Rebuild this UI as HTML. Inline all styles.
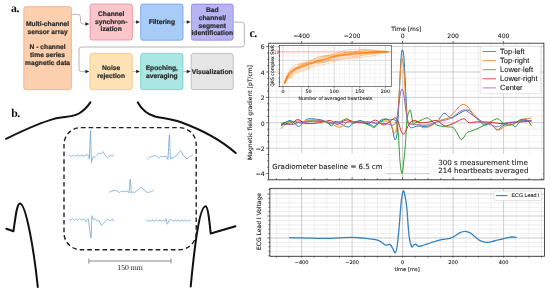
<!DOCTYPE html>
<html><head><meta charset="utf-8"><title>Figure</title>
<style>html,body{margin:0;padding:0;background:#fff;}svg{display:block;}.t{stroke:#222;stroke-width:0.1px;paint-order:stroke;}</style></head>
<body><svg width="550" height="294" viewBox="0 0 550 294" text-rendering="geometricPrecision">
<rect width="550" height="294" fill="#fff"/>
<text x="10.9" y="11.5" font-family="'Liberation Serif', 'Times New Roman', serif" font-weight="bold" font-size="11.8" letter-spacing="-0.4" fill="#111">a.</text>
<text x="11.2" y="116.8" font-family="'Liberation Serif', 'Times New Roman', serif" font-weight="bold" font-size="11.8" letter-spacing="-0.4" fill="#111">b.</text>
<text x="249.5" y="37.1" font-family="'Liberation Serif', 'Times New Roman', serif" font-weight="bold" font-size="12" letter-spacing="-0.6" fill="#111">c.</text>
<rect x="23.8" y="6.7" width="47.6" height="82.9" rx="2.2" fill="#fccfae" stroke="#f2a96e" stroke-width="0.8"/>
<text x="47.6" y="25.75" text-anchor="middle" font-family="'Liberation Sans', Arial, sans-serif" font-weight="bold" font-size="6.7" fill="#2a2a2a" stroke="#2a2a2a" stroke-width="0.2">Multi-channel</text>
<text x="47.6" y="33.7" text-anchor="middle" font-family="'Liberation Sans', Arial, sans-serif" font-weight="bold" font-size="6.7" fill="#2a2a2a" stroke="#2a2a2a" stroke-width="0.2">sensor array</text>
<text x="47.6" y="49.15" text-anchor="middle" font-family="'Liberation Sans', Arial, sans-serif" font-weight="bold" font-size="6.7" fill="#2a2a2a" stroke="#2a2a2a" stroke-width="0.2">N - channel</text>
<text x="47.6" y="56.95" text-anchor="middle" font-family="'Liberation Sans', Arial, sans-serif" font-weight="bold" font-size="6.7" fill="#2a2a2a" stroke="#2a2a2a" stroke-width="0.2">time series</text>
<text x="47.6" y="64.75" text-anchor="middle" font-family="'Liberation Sans', Arial, sans-serif" font-weight="bold" font-size="6.7" fill="#2a2a2a" stroke="#2a2a2a" stroke-width="0.2">magnetic data</text>
<rect x="90" y="4" width="42.4" height="36" rx="2.2" fill="#f9c5ca" stroke="#ec8e98" stroke-width="0.8"/>
<text x="111.2" y="15.7" text-anchor="middle" font-family="'Liberation Sans', Arial, sans-serif" font-weight="bold" font-size="6.7" fill="#2a2a2a" stroke="#2a2a2a" stroke-width="0.2">Channel</text>
<text x="111.2" y="23.55" text-anchor="middle" font-family="'Liberation Sans', Arial, sans-serif" font-weight="bold" font-size="6.7" fill="#2a2a2a" stroke="#2a2a2a" stroke-width="0.2">synchron-</text>
<text x="111.2" y="31.4" text-anchor="middle" font-family="'Liberation Sans', Arial, sans-serif" font-weight="bold" font-size="6.7" fill="#2a2a2a" stroke="#2a2a2a" stroke-width="0.2">ization</text>
<rect x="140.7" y="4.1" width="42.3" height="36.1" rx="2.2" fill="#a8cbf7" stroke="#6d9fe6" stroke-width="0.8"/>
<text x="161.85" y="23.7" text-anchor="middle" font-family="'Liberation Sans', Arial, sans-serif" font-weight="bold" font-size="6.7" fill="#2a2a2a" stroke="#2a2a2a" stroke-width="0.2">Filtering</text>
<rect x="191.4" y="4.1" width="41.8" height="36.1" rx="2.2" fill="#b7b4f4" stroke="#8a84e6" stroke-width="0.8"/>
<text x="212.3" y="11.93" text-anchor="middle" font-family="'Liberation Sans', Arial, sans-serif" font-weight="bold" font-size="6.7" fill="#2a2a2a" stroke="#2a2a2a" stroke-width="0.2">Bad</text>
<text x="212.3" y="19.78" text-anchor="middle" font-family="'Liberation Sans', Arial, sans-serif" font-weight="bold" font-size="6.7" fill="#2a2a2a" stroke="#2a2a2a" stroke-width="0.2">channel/</text>
<text x="212.3" y="27.63" text-anchor="middle" font-family="'Liberation Sans', Arial, sans-serif" font-weight="bold" font-size="6.7" fill="#2a2a2a" stroke="#2a2a2a" stroke-width="0.2">segment</text>
<text x="212.3" y="35.48" text-anchor="middle" font-family="'Liberation Sans', Arial, sans-serif" font-weight="bold" font-size="6.7" fill="#2a2a2a" stroke="#2a2a2a" stroke-width="0.2">identification</text>
<rect x="90" y="53.4" width="42.2" height="36.2" rx="2.2" fill="#fde2b6" stroke="#f3c57e" stroke-width="0.8"/>
<text x="111.1" y="69.72" text-anchor="middle" font-family="'Liberation Sans', Arial, sans-serif" font-weight="bold" font-size="6.7" fill="#2a2a2a" stroke="#2a2a2a" stroke-width="0.2">Noise</text>
<text x="111.1" y="77.57" text-anchor="middle" font-family="'Liberation Sans', Arial, sans-serif" font-weight="bold" font-size="6.7" fill="#2a2a2a" stroke="#2a2a2a" stroke-width="0.2">rejection</text>
<rect x="140.7" y="53.4" width="42.2" height="36.2" rx="2.2" fill="#aae6e2" stroke="#6fcbc6" stroke-width="0.8"/>
<text x="161.8" y="69.72" text-anchor="middle" font-family="'Liberation Sans', Arial, sans-serif" font-weight="bold" font-size="6.7" fill="#2a2a2a" stroke="#2a2a2a" stroke-width="0.2">Epoching,</text>
<text x="161.8" y="77.57" text-anchor="middle" font-family="'Liberation Sans', Arial, sans-serif" font-weight="bold" font-size="6.7" fill="#2a2a2a" stroke="#2a2a2a" stroke-width="0.2">averaging</text>
<rect x="191.2" y="53.4" width="42" height="36.2" rx="2.2" fill="#e6e6e7" stroke="#b3b3b5" stroke-width="0.8"/>
<text x="212.2" y="73.65" text-anchor="middle" font-family="'Liberation Sans', Arial, sans-serif" font-weight="bold" font-size="6.7" fill="#2a2a2a" stroke="#2a2a2a" stroke-width="0.2">Visualization</text>
<path d="M71.8,14.4 H77.6 Q80.5,14.4 80.5,17.3 V21.2 Q80.5,24.1 83.4,24.1 H86" fill="none" stroke="#a2a2a2" stroke-width="0.8"/>
<path d="M89.3,24.1 L85.4,22.35 L85.4,25.85 Z" fill="#222"/>
<path d="M132.8,22 H137" fill="none" stroke="#a2a2a2" stroke-width="0.8"/>
<path d="M140,22 L136.1,20.25 L136.1,23.75 Z" fill="#222"/>
<path d="M183.4,22 H188" fill="none" stroke="#a2a2a2" stroke-width="0.8"/>
<path d="M190.7,22 L186.8,20.25 L186.8,23.75 Z" fill="#222"/>
<path d="M233.6,22.2 H241.8 Q244.3,22.2 244.3,24.7 V44.5 Q244.3,47 241.8,47 H81.5 Q79,47 79,49.5 V69.1 Q79,71.6 81.5,71.6 H86" fill="none" stroke="#a2a2a2" stroke-width="0.8"/>
<path d="M89.3,71.6 L85.4,69.85 L85.4,73.35 Z" fill="#222"/>
<path d="M132.6,71.6 H137" fill="none" stroke="#a2a2a2" stroke-width="0.8"/>
<path d="M140,71.6 L136.1,69.85 L136.1,73.35 Z" fill="#222"/>
<path d="M183.3,71.6 H188" fill="none" stroke="#a2a2a2" stroke-width="0.8"/>
<path d="M190.6,71.6 L186.7,69.85 L186.7,73.35 Z" fill="#222"/>
<g fill="none" stroke="#111" stroke-width="2" stroke-linecap="round" stroke-linejoin="round">
<path d="M6,138.8 C22,131 42,122 55,118.6 C65,116.4 72,117.4 79,113.5 C84,110.5 88,106 90.4,102.4"/>
<path d="M137.8,102.4 C142,110 147,114 155,116.5 C162,118.3 170,118.4 181,122.2 C201,129.5 221,140 235.7,153"/>
<path d="M6.4,228.8 L13.4,231.3 C15,222 16.5,203.4 20,203.4 C26,204 34,250 37.8,287"/>
<path d="M190.7,286.5 C194,252 199,206.2 205.6,206.2 C208,206.2 209.5,222 210.7,233.5 L235.5,226.2"/>
</g>
<rect x="64" y="127.6" width="132.2" height="122.2" rx="17" fill="none" stroke="#222" stroke-width="1.4" stroke-dasharray="4.6 3"/>
<g stroke="#7c7c7c" stroke-width="0.9"><path d="M88.9,261 H171"/><path d="M88.9,258.6 V263.6"/><path d="M171,258.6 V263.6"/></g>
<text x="130" y="269.6" text-anchor="middle" font-family="'Liberation Serif', 'Times New Roman', serif" font-size="7.7" fill="#222">150 mm</text>
<g fill="none" stroke="#72a8d3" stroke-width="0.85" stroke-linejoin="round">
<path d="M69.2,154.91C69.32,155 71.05,156.39 71.3,156.4C71.55,156.41 73.16,155.07 73.4,155.06C73.65,155.05 75.25,156.25 75.5,156.25C75.75,156.25 77.35,155.01 77.6,155.01C77.84,155 79.45,156.17 79.7,156.17C79.95,156.17 81.55,154.99 81.8,154.99C82.05,155 83.66,156.27 83.9,156.26C84.15,156.26 85.73,154.98 86,154.92C86.27,154.86 88.4,154.99 88.6,155.2C88.8,155.41 89.3,159.97 89.4,158.6C89.51,157.23 90.32,133.36 90.4,131.8C90.48,130.24 90.64,130.02 90.7,131.8C90.76,133.58 91.3,160.8 91.4,162.3C91.51,163.8 92.32,157.8 92.5,157.5C92.68,157.2 94.3,157.21 94.5,157.1C94.7,156.99 95.81,155.79 96,155.6C96.19,155.41 97.49,154.04 97.7,153.9C97.91,153.76 99.41,153.21 99.6,153.2C99.79,153.19 100.81,153.9 101,153.8C101.19,153.7 102.67,151.43 102.9,151.5C103.13,151.57 104.74,154.63 105,155C105.26,155.37 107.17,157.72 107.4,157.8C107.63,157.88 108.81,156.54 109,156.4C109.19,156.26 110.41,155.41 110.6,155.4C110.79,155.39 112.01,156.21 112.2,156.2C112.39,156.19 113.8,155.26 113.9,155.2"/>
<path d="M147.7,159.4C147.8,159.29 149.29,157.68 149.5,157.5C149.71,157.32 150.98,156.41 151.3,156.3C151.62,156.2 154.68,155.68 155,155.7C155.32,155.72 156.58,156.45 156.8,156.6C157.02,156.75 158.45,158.22 158.7,158.2C158.95,158.18 160.82,156.38 161.1,156.3C161.38,156.22 163.18,156.8 163.5,156.8C163.82,156.8 166.34,156.15 166.6,156.3C166.86,156.45 167.74,160.61 167.9,159.4C168.06,158.19 169.2,136.99 169.3,135.6C169.4,134.21 169.54,134.25 169.6,135.6C169.66,136.95 170.19,157.56 170.3,158.8C170.41,160.04 171.35,156.94 171.5,156.9C171.65,156.87 172.6,158.23 172.8,158.2C173,158.17 174.75,156.58 175,156.4C175.25,156.22 176.68,155.44 177,155.1C177.32,154.76 180.14,150.6 180.5,150.6C180.86,150.6 182.83,154.62 183.2,155.1C183.57,155.58 186.41,158.73 186.8,158.8C187.19,158.87 189.56,156.52 189.9,156.3C190.24,156.08 192.54,155.17 192.7,155.1"/>
<path d="M109,192.5C109.15,192.41 111.17,191.01 111.6,190.9C112.03,190.79 115.86,190.51 116.3,190.6C116.74,190.69 118.9,192.47 119.2,192.5C119.5,192.53 121.19,191.15 121.5,191.1C121.81,191.05 124.14,191.6 124.5,191.6C124.86,191.6 127.43,191.03 127.7,191.1C127.97,191.17 128.96,193.47 129.1,192.8C129.24,192.14 130.02,180.46 130.1,179.7C130.18,178.94 130.43,178.92 130.5,179.7C130.57,180.48 131.19,192.29 131.3,193C131.41,193.71 132.22,191.83 132.4,191.8C132.58,191.77 134,192.6 134.3,192.5C134.6,192.4 137.19,190.41 137.6,190.1C138.01,189.78 140.96,187.04 141.4,187.1C141.84,187.16 144.81,190.78 145.2,191.1C145.58,191.41 147.66,192.47 148,192.5C148.34,192.53 150.67,191.74 151,191.6C151.33,191.46 153.54,190.19 153.7,190.1"/>
<path d="M69,218.71C69.1,218.81 70.57,220.34 70.78,220.34C70.99,220.34 72.35,218.71 72.56,218.71C72.76,218.71 74.13,220.39 74.33,220.4C74.54,220.4 75.9,218.82 76.11,218.81C76.32,218.8 77.68,220.22 77.89,220.22C78.1,220.21 79.46,218.71 79.67,218.71C79.87,218.7 81.24,220.13 81.44,220.14C81.65,220.16 83.01,218.96 83.22,218.97C83.43,218.98 84.83,220.14 85,220.3C85.17,220.45 85.91,221.68 86.1,221.6C86.29,221.52 88.04,217.99 88.3,218.9C88.56,219.81 90.43,236.13 90.6,237.2C90.77,238.27 91.12,238.45 91.2,237.2C91.28,235.95 91.78,216.84 91.9,215.8C92.02,214.76 93.05,219.23 93.2,219.4C93.35,219.57 94.34,218.66 94.5,218.7C94.66,218.73 95.82,219.86 96,220C96.18,220.14 97.41,221.05 97.6,221.1C97.79,221.15 98.98,220.55 99.2,220.8C99.42,221.05 101.11,225.29 101.4,225.4C101.69,225.51 103.83,222.99 104.1,222.7C104.37,222.41 105.78,220.72 106,220.5C106.22,220.28 107.66,218.87 107.9,218.9C108.14,218.94 109.85,221.09 110.1,221.1C110.35,221.11 111.98,219.09 112.2,219.1C112.42,219.11 113.8,221.17 113.9,221.3"/>
<path d="M146,220.05C146.1,220.13 147.53,221.36 147.73,221.36C147.93,221.36 149.25,220.05 149.45,220.05C149.66,220.05 150.98,221.38 151.18,221.37C151.38,221.37 152.71,219.97 152.91,219.96C153.11,219.96 154.43,221.28 154.64,221.28C154.84,221.27 156.16,219.88 156.36,219.87C156.57,219.87 157.89,221.24 158.09,221.25C158.29,221.25 159.62,220.03 159.82,220.03C160.02,220.02 161.34,221.14 161.55,221.14C161.75,221.14 163.07,220.08 163.27,220.09C163.47,220.1 164.84,221.38 165,221.32C165.16,221.25 165.97,218.83 166.1,219C166.23,219.17 167.11,224.15 167.3,224.2C167.49,224.25 169.16,220.15 169.4,219.9C169.65,219.65 171.28,219.86 171.5,219.93C171.72,220 173.04,221.11 173.25,221.11C173.45,221.11 174.79,219.95 174.99,219.95C175.19,219.95 176.53,221.02 176.74,221.03C176.94,221.04 178.28,220.14 178.48,220.15C178.69,220.16 180.02,221.19 180.23,221.19C180.43,221.18 181.77,220.03 181.97,220.03C182.18,220.03 183.51,221.13 183.72,221.14C183.92,221.14 185.26,220.08 185.46,220.09C185.67,220.09 187.01,221.2 187.21,221.19C187.41,221.19 188.75,220.06 188.95,220.06C189.16,220.06 190.6,221.16 190.7,221.23"/>
</g>
<rect x="268.7" y="43.2" width="275.2" height="136.6" fill="#fff"/>
<path d="M276.35,43.2V179.8M288.98,43.2V179.8M314.23,43.2V179.8M326.85,43.2V179.8M339.48,43.2V179.8M364.73,43.2V179.8M377.35,43.2V179.8M389.98,43.2V179.8M415.23,43.2V179.8M427.85,43.2V179.8M440.48,43.2V179.8M465.73,43.2V179.8M478.35,43.2V179.8M490.98,43.2V179.8M516.23,43.2V179.8M528.85,43.2V179.8M541.48,43.2V179.8M268.7,179.95H543.9M268.7,167.25H543.9M268.7,160.9H543.9M268.7,154.55H543.9M268.7,141.85H543.9M268.7,135.5H543.9M268.7,129.15H543.9M268.7,116.45H543.9M268.7,110.1H543.9M268.7,103.75H543.9M268.7,91.05H543.9M268.7,84.7H543.9M268.7,78.35H543.9M268.7,65.65H543.9M268.7,59.3H543.9M268.7,52.95H543.9" stroke="#e4e4e4" stroke-width="0.6" fill="none"/>
<path d="M301.6,43.2V179.8M352.1,43.2V179.8M402.6,43.2V179.8M453.1,43.2V179.8M503.6,43.2V179.8M268.7,173.6H543.9M268.7,148.2H543.9M268.7,122.8H543.9M268.7,97.4H543.9M268.7,72H543.9M268.7,46.6H543.9" stroke="#b9b9b9" stroke-width="0.7" fill="none"/>
<path d="M281,125.8C281.75,125.25 283.97,123.38 285.5,122.5C287.03,121.62 288.78,120.45 290.2,120.5C291.62,120.55 292.63,121.83 294,122.8C295.37,123.77 296.98,126.18 298.4,126.3C299.82,126.42 301.2,124.62 302.5,123.5C303.8,122.38 304.95,120.38 306.2,119.6C307.45,118.82 308.15,118.85 310,118.8C311.85,118.75 315.1,119.02 317.3,119.3C319.5,119.58 321.02,119.72 323.2,120.5C325.38,121.28 328.43,123.8 330.4,124C332.37,124.2 333.05,121.6 335,121.7C336.95,121.8 339.92,123.72 342.1,124.6C344.28,125.48 346.12,127.28 348.1,127C350.08,126.72 352.02,123.98 354,122.9C355.98,121.82 358,120.5 360,120.5C362,120.5 364.02,122.12 366,122.9C367.98,123.68 370.52,124.62 371.9,125.2C373.28,125.78 372.95,127.13 374.3,126.4C375.65,125.67 378.32,122.03 380,120.8C381.68,119.57 382.87,119.03 384.4,119C385.93,118.97 387.9,119.1 389.2,120.6C390.5,122.1 391.25,124.8 392.2,128C393.15,131.2 394.05,139.3 394.9,139.8C395.75,140.3 396.58,138.47 397.3,131C398.02,123.53 398.6,106.83 399.2,95C399.8,83.17 400.37,67.53 400.9,60C401.43,52.47 401.87,49.8 402.4,49.8C402.93,49.8 403.52,52.47 404.1,60C404.68,67.53 405.35,85 405.9,95C406.45,105 406.72,114.67 407.4,120C408.08,125.33 409.2,125.73 410,127C410.8,128.27 410.9,127.77 412.2,127.6C413.5,127.43 416,126.2 417.8,126C419.6,125.8 421.13,126.4 423,126.4C424.87,126.4 427.33,126.4 429,126C430.67,125.6 431.67,124.67 433,124C434.33,123.33 435.67,123.25 437,122C438.33,120.75 439.8,117.97 441,116.5C442.2,115.03 443.12,113.37 444.2,113.2C445.28,113.03 446.32,114.7 447.5,115.5C448.68,116.3 449.88,118 451.3,118C452.72,118 454.38,116.43 456,115.5C457.62,114.57 459.5,113.23 461,112.4C462.5,111.57 463.83,110.9 465,110.5C466.17,110.1 467,109.75 468,110C469,110.25 470.05,111.07 471,112C471.95,112.93 472.27,114.07 473.7,115.6C475.13,117.13 477.82,119.6 479.6,121.2C481.38,122.8 482.67,124.8 484.4,125.2C486.13,125.6 488.4,123.3 490,123.6C491.6,123.9 492.8,125.93 494,127C495.2,128.07 495.78,130.13 497.2,130C498.62,129.87 500.63,127.4 502.5,126.2C504.37,125 506.82,123.08 508.4,122.8C509.98,122.52 510.82,123.83 512,124.5C513.18,125.17 514.42,127.02 515.5,126.8C516.58,126.58 517.57,124.27 518.5,123.2C519.43,122.13 519.85,120.83 521.1,120.4C522.35,119.97 524.27,120.6 526,120.6C527.73,120.6 530.58,120.43 531.5,120.4" fill="none" stroke="#1f77b4" stroke-width="1.0" stroke-linejoin="round"/>
<path d="M281,128.8C281.68,128.1 283.22,125.68 285.1,124.6C286.98,123.52 290.15,122.9 292.3,122.3C294.45,121.7 296.22,121.13 298,121C299.78,120.87 301.37,121.58 303,121.5C304.63,121.42 306.02,120.77 307.8,120.5C309.58,120.23 311.52,119.9 313.7,119.9C315.88,119.9 318.85,120.15 320.9,120.5C322.95,120.85 324.32,121.62 326,122C327.68,122.38 329.5,122.17 331,122.8C332.5,123.43 333.33,125.1 335,125.8C336.67,126.5 338.82,127.68 341,127C343.18,126.32 346.1,122.57 348.1,121.7C350.1,120.83 351.22,121.6 353,121.8C354.78,122 357.05,122.8 358.8,122.9C360.55,123 361.92,122.6 363.5,122.4C365.08,122.2 366.3,121.52 368.3,121.7C370.3,121.88 373.55,123.45 375.5,123.5C377.45,123.55 378.42,122.42 380,122C381.58,121.58 383.42,121.05 385,121C386.58,120.95 388.37,120.7 389.5,121.7C390.63,122.7 391.05,125.08 391.8,127C392.55,128.92 393.22,133.03 394,133.2C394.78,133.37 395.7,133.53 396.5,128C397.3,122.47 398.13,109.67 398.8,100C399.47,90.33 399.95,76.93 400.5,70C401.05,63.07 401.53,58.4 402.1,58.4C402.67,58.4 403.32,63.07 403.9,70C404.48,76.93 405.05,92 405.6,100C406.15,108 406.58,114.17 407.2,118C407.82,121.83 408.6,122.07 409.3,123C410,123.93 410.65,123.85 411.4,123.6C412.15,123.35 413,122.03 413.8,121.5C414.6,120.97 415.33,120.07 416.2,120.4C417.07,120.73 417.93,122.3 419,123.5C420.07,124.7 420.93,127.05 422.6,127.6C424.27,128.15 427.27,127.32 429,126.8C430.73,126.28 431.67,125.3 433,124.5C434.33,123.7 435.5,122.78 437,122C438.5,121.22 440.13,120.47 442,119.8C443.87,119.13 446.45,118.97 448.2,118C449.95,117.03 451.03,115.5 452.5,114C453.97,112.5 455.67,110.42 457,109C458.33,107.58 459.45,106.27 460.5,105.5C461.55,104.73 462.3,104.35 463.3,104.4C464.3,104.45 465.5,105.12 466.5,105.8C467.5,106.48 468.38,107.4 469.3,108.5C470.22,109.6 470.88,111.07 472,112.4C473.12,113.73 474.2,114.77 476,116.5C477.8,118.23 480.6,121.62 482.8,122.8C485,123.98 487.33,122.9 489.2,123.6C491.07,124.3 492.4,125.93 494,127C495.6,128.07 496.93,130.17 498.8,130C500.67,129.83 503.33,126.92 505.2,126C507.07,125.08 508.42,124.9 510,124.5C511.58,124.1 512.85,124.42 514.7,123.6C516.55,122.78 519.22,120.4 521.1,119.6C522.98,118.8 524.27,119.07 526,118.8C527.73,118.53 530.58,118.13 531.5,118" fill="none" stroke="#ff7f0e" stroke-width="1.0" stroke-linejoin="round"/>
<path d="M281,123.5C281.67,123.3 283.52,122.6 285,122.3C286.48,122 288.15,121.72 289.9,121.7C291.65,121.68 293.52,122 295.5,122.2C297.48,122.4 299.97,122.97 301.8,122.9C303.63,122.83 304.92,122.12 306.5,121.8C308.08,121.48 309.38,121.08 311.3,121C313.22,120.92 315.62,121.18 318,121.3C320.38,121.42 323.33,120.95 325.6,121.7C327.87,122.45 330.03,125.77 331.6,125.8C333.17,125.83 333.63,122.58 335,121.9C336.37,121.22 337.82,122.23 339.8,121.7C341.78,121.17 344.92,118.5 346.9,118.7C348.88,118.9 349.72,122.3 351.7,122.9C353.68,123.5 356.67,122.2 358.8,122.3C360.93,122.4 362.52,122.92 364.5,123.5C366.48,124.08 369.07,125.12 370.7,125.8C372.33,126.48 372.92,128.08 374.3,127.6C375.68,127.12 377.22,124.28 379,122.9C380.78,121.52 383.2,119.8 385,119.3C386.8,118.8 388.38,119.85 389.8,119.9C391.22,119.95 392.38,119.25 393.5,119.6C394.62,119.95 395.68,119.43 396.5,122C397.32,124.57 397.83,128.67 398.4,135C398.97,141.33 399.3,153.57 399.9,160C400.5,166.43 401.33,173.6 402,173.6C402.67,173.6 403.33,164.88 403.9,160C404.47,155.12 404.88,150.97 405.4,144.3C405.92,137.63 406.27,125.72 407,120C407.73,114.28 409.05,110.83 409.8,110C410.55,109.17 410.97,112.73 411.5,115C412.03,117.27 412.42,122.27 413,123.6C413.58,124.93 414.2,123.27 415,123C415.8,122.73 416.55,122.58 417.8,122C419.05,121.42 420.9,120.17 422.5,119.5C424.1,118.83 425.82,117.75 427.4,118C428.98,118.25 430.4,119.8 432,121C433.6,122.2 434.57,124.23 437,125.2C439.43,126.17 443.93,126.4 446.6,126.8C449.27,127.2 451.27,126.57 453,127.6C454.73,128.63 455.67,131 457,133C458.33,135 459.83,138.93 461,139.6C462.17,140.27 462.95,138.2 464,137C465.05,135.8 465.97,133.43 467.3,132.4C468.63,131.37 470.22,131.47 472,130.8C473.78,130.13 475.67,129.47 478,128.4C480.33,127.33 483.67,125.63 486,124.4C488.33,123.17 490,121.93 492,121C494,120.07 496.07,118.37 498,118.8C499.93,119.23 501.6,122.53 503.6,123.6C505.6,124.67 508.1,125.3 510,125.2C511.9,125.1 513.15,123.93 515,123C516.85,122.07 519.02,120.03 521.1,119.6C523.18,119.17 525.77,119.33 527.5,120.4C529.23,121.47 530.83,125.07 531.5,126" fill="none" stroke="#2ca02c" stroke-width="1.0" stroke-linejoin="round"/>
<path d="M281,124.6C281.8,124.37 284.1,123.23 285.8,123.2C287.5,123.17 289.27,125.02 291.2,124.4C293.13,123.78 295.23,119.7 297.4,119.5C299.57,119.3 302.43,122.52 304.2,123.2C305.97,123.88 306.42,123.55 308,123.6C309.58,123.65 311.87,123.63 313.7,123.5C315.53,123.37 317.2,123.12 319,122.8C320.8,122.48 322.6,121.98 324.5,121.6C326.4,121.22 328.82,120.35 330.4,120.5C331.98,120.65 332.82,121.82 334,122.5C335.18,123.18 336.15,124.73 337.5,124.6C338.85,124.47 340.33,122.48 342.1,121.7C343.87,120.92 345.92,119.8 348.1,119.9C350.28,120 352.82,121.9 355.2,122.3C357.58,122.7 360.22,122.1 362.4,122.3C364.58,122.5 366.12,123.87 368.3,123.5C370.48,123.13 373.05,119.85 375.5,120.1C377.95,120.35 380.75,124.63 383,125C385.25,125.37 387.28,123.35 389,122.3C390.72,121.25 392.13,119.37 393.3,118.7C394.47,118.03 395.05,117.42 396,118.3C396.95,119.18 398.17,121.88 399,124C399.83,126.12 400.28,129.3 401,131C401.72,132.7 402.55,134.12 403.3,134.2C404.05,134.28 404.72,132.87 405.5,131.5C406.28,130.13 407.12,127.58 408,126C408.88,124.42 409.83,122.93 410.8,122C411.77,121.07 412.77,120.43 413.8,120.4C414.83,120.37 415.8,121.4 417,121.8C418.2,122.2 419.17,122.72 421,122.8C422.83,122.88 425.47,122.7 428,122.3C430.53,121.9 434.03,120.2 436.2,120.4C438.37,120.6 439.53,122.57 441,123.5C442.47,124.43 443.67,125.75 445,126C446.33,126.25 447.67,125.4 449,125C450.33,124.6 451.5,124.27 453,123.6C454.5,122.93 456.28,121.8 458,121C459.72,120.2 461.88,118.88 463.3,118.8C464.72,118.72 465.55,119.83 466.5,120.5C467.45,121.17 467.58,122.55 469,122.8C470.42,123.05 472.17,122.13 475,122C477.83,121.87 482.83,121.87 486,122C489.17,122.13 491.33,122.53 494,122.8C496.67,123.07 499.67,123.6 502,123.6C504.33,123.6 505.88,123.07 508,122.8C510.12,122.53 512.37,122.17 514.7,122C517.03,121.83 519.2,121.93 522,121.8C524.8,121.67 529.92,121.3 531.5,121.2" fill="none" stroke="#d62728" stroke-width="1.0" stroke-linejoin="round"/>
<path d="M281,125.3C281.67,125.17 283.63,124.68 285,124.5C286.37,124.32 287.78,124.22 289.2,124.2C290.62,124.18 292.03,124.68 293.5,124.4C294.97,124.12 296.58,122.73 298,122.5C299.42,122.27 300.17,123.13 302,123C303.83,122.87 306.67,122 309,121.7C311.33,121.4 313.63,121.32 316,121.2C318.37,121.08 320.4,120.72 323.2,121C326,121.28 330,122.6 332.8,122.9C335.6,123.2 337.65,122.9 340,122.8C342.35,122.7 345.07,122.5 346.9,122.3C348.73,122.1 349.42,121.7 351,121.6C352.58,121.5 354.4,121.63 356.4,121.7C358.4,121.77 360.62,121.9 363,122C365.38,122.1 368.45,122.13 370.7,122.3C372.95,122.47 374.52,122.8 376.5,123C378.48,123.2 380.85,123.37 382.6,123.5C384.35,123.63 385.77,123.58 387,123.8C388.23,124.02 389,124.6 390,124.8C391,125 392,125.47 393,125C394,124.53 395.1,124.83 396,122C396.9,119.17 397.68,112.67 398.4,108C399.12,103.33 399.7,97.18 400.3,94C400.9,90.82 401.42,88.9 402,88.9C402.58,88.9 403.17,90.48 403.8,94C404.43,97.52 405.1,105.33 405.8,110C406.5,114.67 407.07,119.6 408,122C408.93,124.4 409.73,123.93 411.4,124.4C413.07,124.87 415.6,124.67 418,124.8C420.4,124.93 423.63,125.37 425.8,125.2C427.97,125.03 429.13,124.33 431,123.8C432.87,123.27 435,122.55 437,122C439,121.45 440.88,121.03 443,120.5C445.12,119.97 447.7,119.63 449.7,118.8C451.7,117.97 453.37,116.67 455,115.5C456.63,114.33 458.12,112.72 459.5,111.8C460.88,110.88 462.05,110.1 463.3,110C464.55,109.9 465.55,110.4 467,111.2C468.45,112 470.5,113.75 472,114.8C473.5,115.85 474.2,116.3 476,117.5C477.8,118.7 480.47,120.83 482.8,122C485.13,123.17 487.6,123.7 490,124.5C492.4,125.3 495.2,126.75 497.2,126.8C499.2,126.85 500.4,125.47 502,124.8C503.6,124.13 504.97,123.23 506.8,122.8C508.63,122.37 510.8,122.37 513,122.2C515.2,122.03 517.83,122 520,121.8C522.17,121.6 524.08,121.23 526,121C527.92,120.77 530.58,120.5 531.5,120.4" fill="none" stroke="#9467bd" stroke-width="1.0" stroke-linejoin="round"/>
<rect x="269.4" y="153.2" width="116.2" height="26.2" fill="#fff"/>
<text x="272.3" y="168.6" font-family="'DejaVu Sans', sans-serif" font-size="7" fill="#222" class="t">Gradiometer baseline = 6.5 cm</text>
<rect x="430" y="154" width="112.6" height="25.4" fill="#fff"/>
<text x="438.3" y="164.7" font-family="'DejaVu Sans', sans-serif" font-size="7.1" fill="#222" class="t">300 s measurement time</text>
<text x="438.3" y="172.7" font-family="'DejaVu Sans', sans-serif" font-size="7.1" fill="#222" class="t">214 heartbeats averaged</text>
<rect x="279.6" y="45.4" width="111.7" height="41.3" fill="#fff"/>
<path d="M288.12,45.4V86.7M293.24,45.4V86.7M298.36,45.4V86.7M303.48,45.4V86.7M313.72,45.4V86.7M318.84,45.4V86.7M323.96,45.4V86.7M329.08,45.4V86.7M339.32,45.4V86.7M344.44,45.4V86.7M349.56,45.4V86.7M354.68,45.4V86.7M364.92,45.4V86.7M370.04,45.4V86.7M375.16,45.4V86.7M380.28,45.4V86.7M390.52,45.4V86.7M279.6,47.1H391.3M279.6,55.9H391.3M279.6,64.7H391.3M279.6,69.1H391.3M279.6,73.5H391.3M279.6,77.9H391.3M279.6,82.3H391.3M279.6,86.7H391.3" stroke="#e8e8e8" stroke-width="0.5" fill="none"/>
<path d="M283,45.4V86.7M308.6,45.4V86.7M334.2,45.4V86.7M359.8,45.4V86.7M385.4,45.4V86.7M279.6,60.3H391.3" stroke="#c4c4c4" stroke-width="0.6" fill="none"/>
<path d="M279.6,51.9H391.3" stroke="#f05a5a" stroke-width="1" stroke-dasharray="1 1" fill="none"/>
<g fill="none" stroke="#ff7f0e" stroke-width="0.6" stroke-opacity="0.5"><path d="M284.54,84.3C284.71,83.92 285.13,83.02 285.56,82.03C285.99,81.05 286.5,79.06 287.1,78.39C287.69,77.72 288.29,78.6 289.14,77.99C290,77.38 291.11,75.71 292.22,74.71C293.33,73.72 294.35,72.75 295.8,72.02C297.25,71.28 298.79,71.01 300.92,70.28C303.05,69.56 306.04,68.72 308.6,67.68C311.16,66.64 313.72,64.95 316.28,64.04C318.84,63.13 320.97,62.9 323.96,62.2C326.95,61.51 330.79,60.38 334.2,59.87C337.61,59.36 341.03,59.5 344.44,59.12C347.85,58.74 351.27,58.32 354.68,57.6C358.09,56.89 361.51,55.54 364.92,54.84C368.33,54.14 372.17,53.75 375.16,53.4C378.15,53.04 380.62,53.01 382.84,52.72C385.06,52.42 387.53,51.79 388.47,51.6"/><path d="M284.54,82.73C284.71,82.43 285.13,81.88 285.56,80.96C285.99,80.05 286.5,78.21 287.1,77.23C287.69,76.25 288.29,75.82 289.14,75.09C290,74.36 291.11,73.76 292.22,72.83C293.33,71.9 294.35,70.56 295.8,69.5C297.25,68.45 298.79,67.36 300.92,66.5C303.05,65.65 306.04,65.34 308.6,64.4C311.16,63.46 313.72,61.71 316.28,60.86C318.84,60.01 320.97,60.05 323.96,59.28C326.95,58.5 330.79,56.98 334.2,56.22C337.61,55.47 341.03,55.27 344.44,54.75C347.85,54.23 351.27,53.48 354.68,53.1C358.09,52.72 361.51,52.69 364.92,52.49C368.33,52.29 372.17,52 375.16,51.89C378.15,51.78 380.62,51.85 382.84,51.8C385.06,51.76 387.53,51.63 388.47,51.6"/><path d="M284.54,83.74C284.71,83.14 285.13,80.91 285.56,80.1C285.99,79.29 286.5,79.78 287.1,78.91C287.69,78.04 288.29,76.2 289.14,74.88C290,73.56 291.11,71.89 292.22,70.98C293.33,70.08 294.35,70.07 295.8,69.44C297.25,68.8 298.79,67.86 300.92,67.18C303.05,66.49 306.04,66.36 308.6,65.35C311.16,64.35 313.72,61.98 316.28,61.14C318.84,60.29 320.97,60.89 323.96,60.29C326.95,59.68 330.79,58.53 334.2,57.5C337.61,56.46 341.03,54.81 344.44,54.08C347.85,53.35 351.27,53.18 354.68,53.13C358.09,53.07 361.51,53.81 364.92,53.74C368.33,53.68 372.17,53 375.16,52.73C378.15,52.47 380.62,52.33 382.84,52.15C385.06,51.96 387.53,51.69 388.47,51.6"/><path d="M284.54,83.36C284.71,83.04 285.13,82.41 285.56,81.44C285.99,80.47 286.5,78.57 287.1,77.53C287.69,76.48 288.29,75.98 289.14,75.16C290,74.35 291.11,73.77 292.22,72.64C293.33,71.51 294.35,69.07 295.8,68.37C297.25,67.68 298.79,69.22 300.92,68.47C303.05,67.72 306.04,64.92 308.6,63.88C311.16,62.84 313.72,62.5 316.28,62.23C318.84,61.95 320.97,63.13 323.96,62.23C326.95,61.33 330.79,58 334.2,56.84C337.61,55.69 341.03,55.49 344.44,55.31C347.85,55.14 351.27,56.26 354.68,55.8C358.09,55.33 361.51,53.11 364.92,52.53C368.33,51.95 372.17,52.38 375.16,52.31C378.15,52.23 380.62,52.19 382.84,52.08C385.06,51.96 387.53,51.68 388.47,51.6"/><path d="M284.54,83.61C284.71,83.29 285.13,82.44 285.56,81.7C285.99,80.96 286.5,80.09 287.1,79.18C287.69,78.27 288.29,77.41 289.14,76.22C290,75.04 291.11,73.19 292.22,72.07C293.33,70.96 294.35,70.56 295.8,69.55C297.25,68.53 298.79,66.63 300.92,65.97C303.05,65.31 306.04,66.43 308.6,65.61C311.16,64.79 313.72,61.73 316.28,61.05C318.84,60.36 320.97,61.71 323.96,61.48C326.95,61.25 330.79,60.69 334.2,59.65C337.61,58.61 341.03,56.14 344.44,55.23C347.85,54.32 351.27,54.48 354.68,54.17C358.09,53.87 361.51,53.58 364.92,53.4C368.33,53.22 372.17,53.36 375.16,53.11C378.15,52.85 380.62,52.14 382.84,51.89C385.06,51.64 387.53,51.65 388.47,51.6"/><path d="M284.54,82.49C284.71,82.17 285.13,81.65 285.56,80.56C285.99,79.47 286.5,77.14 287.1,75.97C287.69,74.8 288.29,74.4 289.14,73.52C290,72.64 291.11,71.5 292.22,70.7C293.33,69.9 294.35,69.79 295.8,68.73C297.25,67.66 298.79,65.14 300.92,64.32C303.05,63.49 306.04,64.34 308.6,63.76C311.16,63.18 313.72,61.6 316.28,60.85C318.84,60.09 320.97,60.08 323.96,59.24C326.95,58.4 330.79,56.95 334.2,55.82C337.61,54.69 341.03,53.12 344.44,52.48C347.85,51.84 351.27,51.98 354.68,51.97C358.09,51.96 361.51,52.48 364.92,52.41C368.33,52.35 372.17,51.72 375.16,51.57C378.15,51.43 380.62,51.56 382.84,51.56C385.06,51.56 387.53,51.59 388.47,51.6"/><path d="M284.54,84.75C284.71,84.55 285.13,84.43 285.56,83.57C285.99,82.71 286.5,80.67 287.1,79.59C287.69,78.5 288.29,77.54 289.14,77.06C290,76.58 291.11,77.33 292.22,76.68C293.33,76.04 294.35,74.04 295.8,73.17C297.25,72.29 298.79,72.17 300.92,71.42C303.05,70.67 306.04,69.6 308.6,68.67C311.16,67.74 313.72,66.52 316.28,65.82C318.84,65.13 320.97,65.26 323.96,64.52C326.95,63.77 330.79,62.42 334.2,61.34C337.61,60.26 341.03,58.55 344.44,58.02C347.85,57.5 351.27,58.39 354.68,58.2C358.09,58.01 361.51,57.4 364.92,56.91C368.33,56.41 372.17,55.97 375.16,55.25C378.15,54.52 380.62,53.15 382.84,52.55C385.06,51.94 387.53,51.76 388.47,51.6"/><path d="M284.54,82.61C284.71,82.31 285.13,81.74 285.56,80.82C285.99,79.9 286.5,78.36 287.1,77.09C287.69,75.83 288.29,74.28 289.14,73.23C290,72.18 291.11,71.52 292.22,70.79C293.33,70.06 294.35,69.85 295.8,68.84C297.25,67.84 298.79,65.78 300.92,64.76C303.05,63.74 306.04,63.17 308.6,62.71C311.16,62.26 313.72,62.59 316.28,62.04C318.84,61.49 320.97,60.44 323.96,59.42C326.95,58.4 330.79,56.86 334.2,55.91C337.61,54.96 341.03,54.27 344.44,53.72C347.85,53.17 351.27,53.13 354.68,52.61C358.09,52.1 361.51,50.72 364.92,50.63C368.33,50.55 372.17,51.93 375.16,52.1C378.15,52.27 380.62,51.76 382.84,51.68C385.06,51.6 387.53,51.61 388.47,51.6"/><path d="M284.54,81.7C284.71,81.33 285.13,80.45 285.56,79.43C285.99,78.42 286.5,76.94 287.1,75.61C287.69,74.28 288.29,72.5 289.14,71.46C290,70.42 291.11,70.06 292.22,69.36C293.33,68.66 294.35,68.26 295.8,67.25C297.25,66.24 298.79,64.38 300.92,63.3C303.05,62.21 306.04,61.59 308.6,60.73C311.16,59.86 313.72,58.93 316.28,58.12C318.84,57.31 320.97,56.4 323.96,55.87C326.95,55.33 330.79,55.42 334.2,54.92C337.61,54.42 341.03,53.47 344.44,52.86C347.85,52.26 351.27,51.9 354.68,51.31C358.09,50.72 361.51,49.52 364.92,49.34C368.33,49.17 372.17,49.95 375.16,50.26C378.15,50.57 380.62,50.99 382.84,51.22C385.06,51.44 387.53,51.54 388.47,51.6"/><path d="M284.54,82.84C284.71,82.52 285.13,81.56 285.56,80.91C285.99,80.27 286.5,79.78 287.1,78.99C287.69,78.19 288.29,77.1 289.14,76.13C290,75.17 291.11,74.33 292.22,73.19C293.33,72.05 294.35,70.24 295.8,69.3C297.25,68.37 298.79,68.5 300.92,67.57C303.05,66.64 306.04,64.53 308.6,63.7C311.16,62.87 313.72,63.29 316.28,62.57C318.84,61.85 320.97,60.39 323.96,59.4C326.95,58.4 330.79,57.39 334.2,56.6C337.61,55.81 341.03,55.02 344.44,54.66C347.85,54.31 351.27,54.72 354.68,54.47C358.09,54.22 361.51,53.51 364.92,53.15C368.33,52.79 372.17,52.57 375.16,52.31C378.15,52.06 380.62,51.75 382.84,51.63C385.06,51.51 387.53,51.6 388.47,51.6"/><path d="M284.54,82.38C284.71,81.82 285.13,80.17 285.56,79C285.99,77.83 286.5,76.58 287.1,75.33C287.69,74.09 288.29,72.88 289.14,71.52C290,70.17 291.11,68.3 292.22,67.19C293.33,66.09 294.35,65.48 295.8,64.88C297.25,64.28 298.79,64.03 300.92,63.59C303.05,63.16 306.04,63.26 308.6,62.26C311.16,61.27 313.72,58.66 316.28,57.61C318.84,56.57 320.97,56.61 323.96,55.98C326.95,55.36 330.79,54.77 334.2,53.88C337.61,52.98 341.03,51.38 344.44,50.6C347.85,49.82 351.27,49.34 354.68,49.19C358.09,49.04 361.51,49.48 364.92,49.71C368.33,49.94 372.17,50.35 375.16,50.58C378.15,50.81 380.62,50.92 382.84,51.09C385.06,51.26 387.53,51.51 388.47,51.6"/><path d="M284.54,83C284.71,82.67 285.13,81.81 285.56,81.05C285.99,80.3 286.5,79.85 287.1,78.46C287.69,77.08 288.29,74.01 289.14,72.74C290,71.47 291.11,71.34 292.22,70.83C293.33,70.33 294.35,70.7 295.8,69.72C297.25,68.73 298.79,66.11 300.92,64.93C303.05,63.75 306.04,63.46 308.6,62.64C311.16,61.82 313.72,60.79 316.28,60C318.84,59.22 320.97,58.7 323.96,57.95C326.95,57.19 330.79,55.97 334.2,55.45C337.61,54.93 341.03,55 344.44,54.83C347.85,54.66 351.27,54.61 354.68,54.41C358.09,54.22 361.51,54.08 364.92,53.66C368.33,53.25 372.17,52.32 375.16,51.93C378.15,51.55 380.62,51.39 382.84,51.34C385.06,51.28 387.53,51.56 388.47,51.6"/><path d="M284.54,82.86C284.71,82.4 285.13,81.3 285.56,80.1C285.99,78.9 286.5,76.65 287.1,75.66C287.69,74.68 288.29,75.31 289.14,74.19C290,73.08 291.11,70.04 292.22,68.96C293.33,67.88 294.35,68.18 295.8,67.7C297.25,67.22 298.79,66.81 300.92,66.1C303.05,65.39 306.04,64.08 308.6,63.44C311.16,62.79 313.72,63.36 316.28,62.24C318.84,61.11 320.97,57.66 323.96,56.7C326.95,55.73 330.79,56.72 334.2,56.43C337.61,56.14 341.03,55.58 344.44,54.94C347.85,54.31 351.27,53.02 354.68,52.63C358.09,52.24 361.51,52.84 364.92,52.6C368.33,52.37 372.17,51.37 375.16,51.23C378.15,51.09 380.62,51.72 382.84,51.78C385.06,51.84 387.53,51.63 388.47,51.6"/><path d="M284.54,81.97C284.71,81.55 285.13,80.52 285.56,79.43C285.99,78.35 286.5,76.45 287.1,75.46C287.69,74.46 288.29,74.44 289.14,73.48C290,72.52 291.11,70.57 292.22,69.69C293.33,68.82 294.35,68.9 295.8,68.22C297.25,67.54 298.79,66.65 300.92,65.59C303.05,64.54 306.04,62.93 308.6,61.89C311.16,60.85 313.72,60.23 316.28,59.36C318.84,58.5 320.97,57.56 323.96,56.68C326.95,55.81 330.79,54.84 334.2,54.11C337.61,53.38 341.03,52.68 344.44,52.32C347.85,51.96 351.27,52.31 354.68,51.95C358.09,51.59 361.51,50.3 364.92,50.16C368.33,50.02 372.17,50.91 375.16,51.12C378.15,51.32 380.62,51.33 382.84,51.41C385.06,51.49 387.53,51.57 388.47,51.6"/><path d="M284.54,83.37C284.71,82.98 285.13,82.16 285.56,81.04C285.99,79.92 286.5,77.82 287.1,76.64C287.69,75.46 288.29,74.93 289.14,73.95C290,72.98 291.11,71.72 292.22,70.79C293.33,69.86 294.35,68.93 295.8,68.38C297.25,67.83 298.79,68.23 300.92,67.51C303.05,66.79 306.04,64.92 308.6,64.05C311.16,63.17 313.72,62.81 316.28,62.26C318.84,61.71 320.97,61.77 323.96,60.73C326.95,59.69 330.79,57.08 334.2,56.03C337.61,54.99 341.03,54.92 344.44,54.46C347.85,54 351.27,53.47 354.68,53.26C358.09,53.06 361.51,53.44 364.92,53.21C368.33,52.97 372.17,52.09 375.16,51.86C378.15,51.64 380.62,51.89 382.84,51.85C385.06,51.8 387.53,51.64 388.47,51.6"/><path d="M284.54,84.09C284.71,83.63 285.13,82.28 285.56,81.31C285.99,80.33 286.5,78.82 287.1,78.24C287.69,77.66 288.29,78.5 289.14,77.84C290,77.17 291.11,75.46 292.22,74.24C293.33,73.01 294.35,71.46 295.8,70.48C297.25,69.51 298.79,69.17 300.92,68.37C303.05,67.58 306.04,66.73 308.6,65.72C311.16,64.71 313.72,62.93 316.28,62.32C318.84,61.71 320.97,62.7 323.96,62.05C326.95,61.4 330.79,59.25 334.2,58.42C337.61,57.59 341.03,57.37 344.44,57.06C347.85,56.76 351.27,56.98 354.68,56.59C358.09,56.21 361.51,55.27 364.92,54.76C368.33,54.26 372.17,53.96 375.16,53.56C378.15,53.17 380.62,52.72 382.84,52.4C385.06,52.07 387.53,51.73 388.47,51.6"/></g>
<path d="M284.54,83C284.71,82.58 285.13,81.42 285.56,80.5C285.99,79.58 286.5,78.5 287.1,77.5C287.69,76.5 288.29,75.5 289.14,74.5C290,73.5 291.11,72.42 292.22,71.5C293.33,70.58 294.35,69.83 295.8,69C297.25,68.17 298.79,67.37 300.92,66.5C303.05,65.63 306.04,64.63 308.6,63.8C311.16,62.97 313.72,62.22 316.28,61.5C318.84,60.78 320.97,60.28 323.96,59.5C326.95,58.72 330.79,57.55 334.2,56.8C337.61,56.05 341.03,55.53 344.44,55C347.85,54.47 351.27,53.98 354.68,53.6C358.09,53.22 361.51,52.95 364.92,52.7C368.33,52.45 372.17,52.25 375.16,52.1C378.15,51.95 380.62,51.88 382.84,51.8C385.06,51.72 387.53,51.63 388.47,51.6" fill="none" stroke="#ff7f0e" stroke-width="0.9" stroke-opacity="0.7"/>
<rect x="279.6" y="45.4" width="111.7" height="41.3" fill="none" stroke="#333" stroke-width="0.6"/>
<path d="M283,86.7v1.8M308.6,86.7v1.8M334.2,86.7v1.8M359.8,86.7v1.8M385.4,86.7v1.8M279.6,47.1h-1.2M279.6,55.9h-1.2M279.6,60.3h-1.2M279.6,64.7h-1.2M279.6,69.1h-1.2M279.6,73.5h-1.2M279.6,77.9h-1.2M279.6,82.3h-1.2M279.6,86.7h-1.2M279.6,51.9h-1.8" stroke="#222" stroke-width="0.5" fill="none"/>
<text x="283" y="93" text-anchor="middle" font-family="'DejaVu Sans', sans-serif" font-size="4.8" fill="#222" class="t">0</text>
<text x="308.6" y="93" text-anchor="middle" font-family="'DejaVu Sans', sans-serif" font-size="4.8" fill="#222" class="t">50</text>
<text x="334.2" y="93" text-anchor="middle" font-family="'DejaVu Sans', sans-serif" font-size="4.8" fill="#222" class="t">100</text>
<text x="359.8" y="93" text-anchor="middle" font-family="'DejaVu Sans', sans-serif" font-size="4.8" fill="#222" class="t">150</text>
<text x="385.4" y="93" text-anchor="middle" font-family="'DejaVu Sans', sans-serif" font-size="4.8" fill="#222" class="t">200</text>
<text x="335.5" y="99.6" text-anchor="middle" font-family="'DejaVu Sans', sans-serif" font-size="4.6" fill="#222" class="t">Number of averaged heartbeats</text>
<text transform="translate(274.1,66) rotate(-90)" text-anchor="middle" font-family="'DejaVu Sans', sans-serif" font-size="4.6" fill="#222" class="t">QRS complex SNR</text>
<text x="280" y="53.9" text-anchor="end" font-family="'DejaVu Sans', sans-serif" font-size="5" fill="#ee3f55">18</text>
<rect x="480.3" y="46.2" width="60.5" height="47.4" rx="1.5" fill="#fff" fill-opacity="0.85" stroke="#d4d4d4" stroke-width="0.6"/>
<path d="M482.6,51.5H496" stroke="#1f77b4" stroke-width="0.8"/>
<text x="500.1" y="53.9" font-family="'Liberation Sans', Arial, sans-serif" font-size="7.5" fill="#222" class="t">Top-left</text>
<path d="M482.6,60.6H496" stroke="#ff7f0e" stroke-width="0.8"/>
<text x="500.1" y="63" font-family="'Liberation Sans', Arial, sans-serif" font-size="7.5" fill="#222" class="t">Top-right</text>
<path d="M482.6,69.7H496" stroke="#2ca02c" stroke-width="0.8"/>
<text x="500.1" y="72.1" font-family="'Liberation Sans', Arial, sans-serif" font-size="7.5" fill="#222" class="t">Lower-left</text>
<path d="M482.6,78.8H496" stroke="#d62728" stroke-width="0.8"/>
<text x="500.1" y="81.2" font-family="'Liberation Sans', Arial, sans-serif" font-size="7.5" fill="#222" class="t">Lower-right</text>
<path d="M482.6,87.9H496" stroke="#9467bd" stroke-width="0.8"/>
<text x="500.1" y="90.3" font-family="'Liberation Sans', Arial, sans-serif" font-size="7.5" fill="#222" class="t">Center</text>
<rect x="268.7" y="43.2" width="275.2" height="136.6" fill="none" stroke="#222" stroke-width="0.8"/>
<path d="M276.35,179.8v-1.6M288.98,179.8v-1.6M301.6,43.2v-2.2M301.6,179.8v-2.8M314.23,179.8v-1.6M326.85,179.8v-1.6M339.48,179.8v-1.6M352.1,43.2v-2.2M352.1,179.8v-2.8M364.73,179.8v-1.6M377.35,179.8v-1.6M389.98,179.8v-1.6M402.6,43.2v-2.2M402.6,179.8v-2.8M415.23,179.8v-1.6M427.85,179.8v-1.6M440.48,179.8v-1.6M453.1,43.2v-2.2M453.1,179.8v-2.8M465.73,179.8v-1.6M478.35,179.8v-1.6M490.98,179.8v-1.6M503.6,43.2v-2.2M503.6,179.8v-2.8M516.23,179.8v-1.6M528.85,179.8v-1.6M541.48,179.8v-1.6M268.7,179.95h-1.6M268.7,173.6h-2.8M268.7,167.25h-1.6M268.7,160.9h-1.6M268.7,154.55h-1.6M268.7,148.2h-2.8M268.7,141.85h-1.6M268.7,135.5h-1.6M268.7,129.15h-1.6M268.7,122.8h-2.8M268.7,116.45h-1.6M268.7,110.1h-1.6M268.7,103.75h-1.6M268.7,97.4h-2.8M268.7,91.05h-1.6M268.7,84.7h-1.6M268.7,78.35h-1.6M268.7,72h-2.8M268.7,65.65h-1.6M268.7,59.3h-1.6M268.7,52.95h-1.6M268.7,46.6h-2.8" stroke="#222" stroke-width="0.6" fill="none"/>
<text x="301.6" y="37.9" text-anchor="middle" font-family="'DejaVu Sans', sans-serif" font-size="6.1" fill="#222" class="t">−400</text>
<text x="352.1" y="37.9" text-anchor="middle" font-family="'DejaVu Sans', sans-serif" font-size="6.1" fill="#222" class="t">−200</text>
<text x="402.6" y="37.9" text-anchor="middle" font-family="'DejaVu Sans', sans-serif" font-size="6.1" fill="#222" class="t">0</text>
<text x="453.1" y="37.9" text-anchor="middle" font-family="'DejaVu Sans', sans-serif" font-size="6.1" fill="#222" class="t">200</text>
<text x="503.6" y="37.9" text-anchor="middle" font-family="'DejaVu Sans', sans-serif" font-size="6.1" fill="#222" class="t">400</text>
<text x="406.3" y="30.6" text-anchor="middle" font-family="'DejaVu Sans', sans-serif" font-size="6" fill="#222" class="t">Time [ms]</text>
<text x="264.7" y="176.4" text-anchor="end" font-family="'DejaVu Sans', sans-serif" font-size="6.1" fill="#222" class="t">−4</text>
<text x="264.7" y="151" text-anchor="end" font-family="'DejaVu Sans', sans-serif" font-size="6.1" fill="#222" class="t">−2</text>
<text x="264.7" y="125.6" text-anchor="end" font-family="'DejaVu Sans', sans-serif" font-size="6.1" fill="#222" class="t">0</text>
<text x="264.7" y="100.2" text-anchor="end" font-family="'DejaVu Sans', sans-serif" font-size="6.1" fill="#222" class="t">2</text>
<text x="264.7" y="74.8" text-anchor="end" font-family="'DejaVu Sans', sans-serif" font-size="6.1" fill="#222" class="t">4</text>
<text x="264.7" y="49.4" text-anchor="end" font-family="'DejaVu Sans', sans-serif" font-size="6.1" fill="#222" class="t">6</text>
<text transform="translate(251.9,112.5) rotate(-90)" text-anchor="middle" font-family="'DejaVu Sans', sans-serif" font-size="6" fill="#222" class="t">Magnetic field gradient [pT/cm]</text>
<rect x="269.9" y="188.3" width="274.5" height="68" fill="#fff"/>
<path d="M276.35,188.3V256.3M288.98,188.3V256.3M314.23,188.3V256.3M326.85,188.3V256.3M339.48,188.3V256.3M364.73,188.3V256.3M377.35,188.3V256.3M389.98,188.3V256.3M415.23,188.3V256.3M427.85,188.3V256.3M440.48,188.3V256.3M465.73,188.3V256.3M478.35,188.3V256.3M490.98,188.3V256.3M516.23,188.3V256.3M528.85,188.3V256.3M541.48,188.3V256.3M269.9,255.6H544.4M269.9,251.2H544.4M269.9,246.8H544.4M269.9,242.4H544.4M269.9,233.6H544.4M269.9,229.2H544.4M269.9,224.8H544.4M269.9,220.4H544.4M269.9,211.6H544.4M269.9,207.2H544.4M269.9,202.8H544.4M269.9,198.4H544.4M269.9,189.6H544.4" stroke="#e4e4e4" stroke-width="0.6" fill="none"/>
<path d="M301.6,188.3V256.3M352.1,188.3V256.3M402.6,188.3V256.3M453.1,188.3V256.3M503.6,188.3V256.3M269.9,238H544.4M269.9,216H544.4M269.9,194H544.4" stroke="#b9b9b9" stroke-width="0.7" fill="none"/>
<path d="M289.1,237.6C291.15,237.65 297.42,237.8 301.4,237.9C305.38,238 308.92,238.12 313,238.2C317.08,238.28 321.57,238.45 325.9,238.4C330.23,238.35 334.63,238.07 339,237.9C343.37,237.73 348,237.37 352.1,237.4C356.2,237.43 360.6,237.85 363.6,238.1C366.6,238.35 367.77,238.55 370.1,238.9C372.43,239.25 375.62,239.6 377.6,240.2C379.58,240.8 380.73,241.7 382,242.5C383.27,243.3 384.2,244.62 385.2,245C386.2,245.38 387.17,244.87 388,244.8C388.83,244.73 389.45,244.07 390.2,244.6C390.95,245.13 391.65,246.63 392.5,248C393.35,249.37 394.5,253.3 395.3,252.8C396.1,252.3 396.65,249.42 397.3,245C397.95,240.58 398.55,233.47 399.2,226.3C399.85,219.13 400.52,207.88 401.2,202C401.88,196.12 402.67,192 403.3,191C403.93,190 404.42,193.17 405,196C405.58,198.83 406.12,201.27 406.8,208C407.48,214.73 408.3,229.98 409.1,236.4C409.9,242.82 410.87,245.02 411.6,246.5C412.33,247.98 412.87,245.68 413.5,245.3C414.13,244.92 414.77,244.15 415.4,244.2C416.03,244.25 416.67,245.22 417.3,245.6C417.93,245.98 418.08,246.6 419.2,246.5C420.32,246.4 422.2,245.58 424,245C425.8,244.42 428.17,243.58 430,243C431.83,242.42 433.33,242 435,241.5C436.67,241 438.33,240.38 440,240C441.67,239.62 443.33,239.47 445,239.2C446.67,238.93 448.58,238.77 450,238.4C451.42,238.03 452.5,237.53 453.5,237C454.5,236.47 454.92,235.93 456,235.2C457.08,234.47 458.5,233.23 460,232.6C461.5,231.97 463.58,231.47 465,231.4C466.42,231.33 467.33,231.73 468.5,232.2C469.67,232.67 470.75,233.32 472,234.2C473.25,235.08 474.67,236.43 476,237.5C477.33,238.57 478.33,239.78 480,240.6C481.67,241.42 483.67,242.33 486,242.4C488.33,242.47 491,241.63 494,241C497,240.37 501,239.27 504,238.6C507,237.93 509.9,237.17 512,237C514.1,236.83 515.83,237.5 516.6,237.6" fill="none" stroke="#3382c0" stroke-width="1.3" stroke-linejoin="round"/>
<rect x="493.8" y="191.1" width="47.9" height="9.4" rx="1.5" fill="#fff" fill-opacity="0.85" stroke="#d4d4d4" stroke-width="0.6"/>
<path d="M495.9,195.6H507.4" stroke="#1f77b4" stroke-width="1.0"/>
<text x="511.4" y="197.1" font-family="'Liberation Sans', Arial, sans-serif" font-size="5.4" fill="#222" class="t">ECG Lead I</text>
<rect x="269.9" y="188.3" width="274.5" height="68" fill="none" stroke="#222" stroke-width="0.8"/>
<path d="M276.35,256.3v1.4M288.98,256.3v1.4M301.6,256.3v1.4M314.23,256.3v1.4M326.85,256.3v1.4M339.48,256.3v1.4M352.1,256.3v1.4M364.73,256.3v1.4M377.35,256.3v1.4M389.98,256.3v1.4M402.6,256.3v1.4M415.23,256.3v1.4M427.85,256.3v1.4M440.48,256.3v1.4M453.1,256.3v1.4M465.73,256.3v1.4M478.35,256.3v1.4M490.98,256.3v1.4M503.6,256.3v1.4M516.23,256.3v1.4M528.85,256.3v1.4M541.48,256.3v1.4M269.9,255.6h-1.6M269.9,251.2h-1.6M269.9,246.8h-1.6M269.9,242.4h-1.6M269.9,238h-2.8M269.9,233.6h-1.6M269.9,229.2h-1.6M269.9,224.8h-1.6M269.9,220.4h-1.6M269.9,216h-2.8M269.9,211.6h-1.6M269.9,207.2h-1.6M269.9,202.8h-1.6M269.9,198.4h-1.6M269.9,194h-2.8M269.9,189.6h-1.6" stroke="#222" stroke-width="0.6" fill="none"/>
<text x="301.6" y="263.7" text-anchor="middle" font-family="'DejaVu Sans', sans-serif" font-size="5" fill="#222" class="t">−400</text>
<text x="352.1" y="263.7" text-anchor="middle" font-family="'DejaVu Sans', sans-serif" font-size="5" fill="#222" class="t">−200</text>
<text x="402.6" y="263.7" text-anchor="middle" font-family="'DejaVu Sans', sans-serif" font-size="5" fill="#222" class="t">0</text>
<text x="453.1" y="263.7" text-anchor="middle" font-family="'DejaVu Sans', sans-serif" font-size="5" fill="#222" class="t">200</text>
<text x="503.6" y="263.7" text-anchor="middle" font-family="'DejaVu Sans', sans-serif" font-size="5" fill="#222" class="t">400</text>
<text x="407.2" y="271" text-anchor="middle" font-family="'DejaVu Sans', sans-serif" font-size="5.2" fill="#222" class="t">time [ms]</text>
<text transform="translate(260.5,221.5) rotate(-90)" text-anchor="middle" font-family="'DejaVu Sans', sans-serif" font-size="6" fill="#222" class="t">ECG Lead I Voltage</text>
</svg></body></html>
